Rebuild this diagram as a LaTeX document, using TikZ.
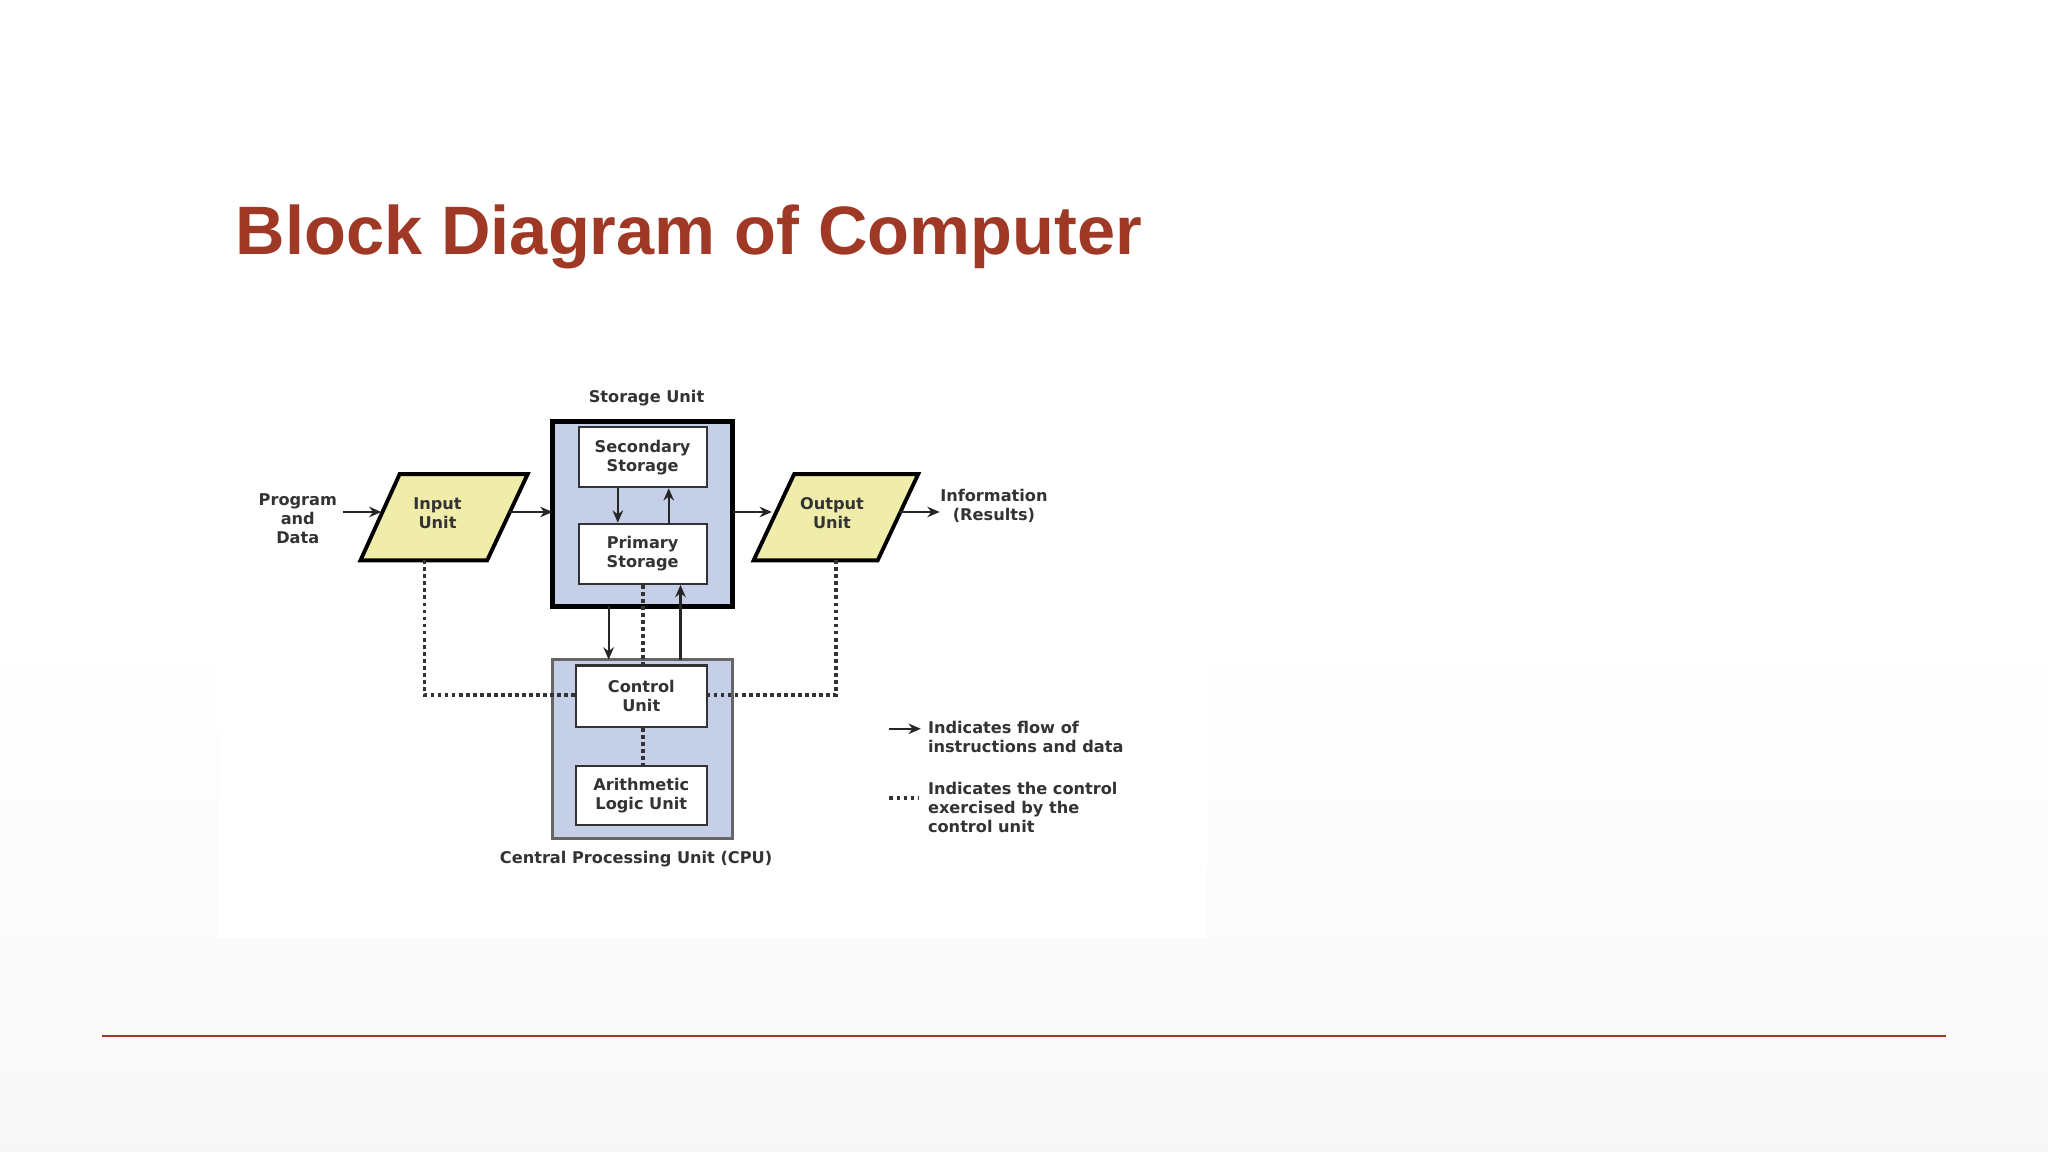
\documentclass[tikz,border=0pt]{standalone}
\usepackage{fontspec}
\setmainfont{DejaVu Sans}
\newfontfamily\titlefont{Liberation Sans}
\usetikzlibrary{arrows.meta,calc}
\def\px{0.013061cm}
\definecolor{rust}{RGB}{160,56,38}
\definecolor{boxblue}{RGB}{197,208,232}
\definecolor{para}{RGB}{240,236,170}
\tikzset{
  lbl/.style={font=\bfseries\fontsize{4.6pt}{5.4pt}\selectfont, align=center, text=black!80, inner sep=0pt},
  inbox/.style={draw=black!80, fill=white, line width=0.6pt, minimum width=98*\px, minimum height=46*\px, lbl},
  flow/.style={-{Stealth[length=3.5pt,width=3pt]}, line width=0.6pt, black!85},
  ctrl/.style={line width=1.1pt, dash pattern=on 1.1pt off 0.9pt, black!80}
}
\begin{document}
\begin{tikzpicture}[x=\px,y=-\px]
\useasboundingbox (0,0) rectangle (1568,882);
\fill[white] (0,0) rectangle (1568,480);
\shade[top color=white, bottom color=black!3] (0,480) rectangle (1568,882);
\node[anchor=base west, text=rust, inner sep=0pt, font=\titlefont\bfseries\fontsize{19.5pt}{23pt}\selectfont] (title) at (180,195) {Block Diagram of Computer};
\fill[white] (167,280) rectangle (924,718);
\draw[rust, line width=0.6pt] (78,793) coordinate (l1) -- (1490,793) coordinate (l2);
% storage unit
\draw[fill=boxblue, line width=1.4pt] (423,323) rectangle (561,464);
\node[lbl] (stl) at (495,305) {Storage Unit};
\node[inbox] (sec) at (492,350) {Secondary\\Storage};
\node[inbox] (pri) at (492,424) {Primary\\Storage};
\draw[flow] (sec.south -| 473,0) -- (pri.north -| 473,0);
\draw[flow] (pri.north -| 512,0) -- (sec.south -| 512,0);
% cpu
\draw[fill=boxblue, draw=black!60, line width=0.9pt] (423,505) rectangle (561,642);
\node[lbl] (cpul) at (487,658) {Central Processing Unit (CPU)};
\node[inbox, minimum width=100*\px, minimum height=47*\px] (cu) at (491,533) {Control\\Unit};
\node[inbox, minimum width=100*\px, minimum height=45*\px] (alu) at (491,609) {Arithmetic\\Logic Unit};
\coordinate (sb1) at (466,464); \coordinate (cb1) at (466,505);
\draw[flow] (sb1) -- (cb1);
\coordinate (cb2) at (521,505);
\draw[flow] (cb2) -- (pri.south -| 521,0);
\draw[ctrl] (pri.south -| 492,0) -- (cu.north -| 492,0);
\draw[ctrl] (cu.south -| 492,0) -- (alu.north -| 492,0);
% input / output
\draw[fill=para, line width=1.1pt] (306,363) -- (404,363) -- (373,429) -- (276,429) -- cycle;
\node[lbl] (inp) at (335,393) {Input\\Unit};
\draw[fill=para, line width=1.1pt] (608,363) -- (703,363) -- (672,429) -- (577,429) -- cycle;
\node[lbl] (outp) at (637,393) {Output\\Unit};
\node[lbl] (prog) at (228,397) {Program\\and\\Data};
\node[lbl] (info) at (761,387) {Information\\(Results)};
\coordinate (inl) at (292,392); \coordinate (inr) at (390,392);
\coordinate (stlft) at (423,392); \coordinate (strt) at (561,392);
\coordinate (outl) at (591,392); \coordinate (outr) at (688,392);
\draw[flow] (prog.east |- inl) ++(4,0) -- (inl);
\draw[flow] (inr) -- (stlft);
\draw[flow] (strt) -- (outl);
\draw[flow] (outr) -- (info.west |- outr);
\coordinate (inb) at (325,429); \coordinate (outb) at (640,429);
\draw[ctrl] (inb) |- (cu.west |- 0,532);
\draw[ctrl] (outb) |- (cu.east |- 0,532);
% legend
\coordinate (a1) at (681,558); \coordinate (a2) at (705,558);
\draw[flow] (a1) -- (a2);
\node[lbl, align=left, anchor=north west] (lg1) at (710,552) {Indicates flow of\\instructions and data};
\coordinate (d1) at (681,611); \coordinate (d2) at (703,611);
\draw[ctrl] (d1) -- (d2);
\node[lbl, align=left, anchor=north west] (lg2) at (710,598) {Indicates the control\\exercised by the\\control unit};
\end{tikzpicture}
\end{document}
